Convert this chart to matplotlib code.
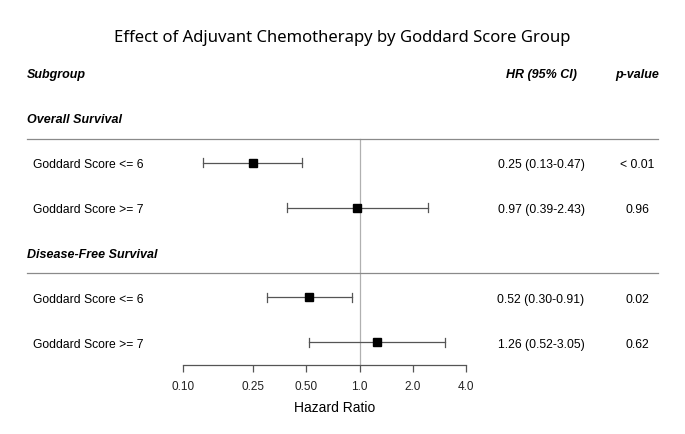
import matplotlib
matplotlib.use("Agg")
import matplotlib.pyplot as plt
import matplotlib.transforms as mtrans
import matplotlib.ticker as mticker

# ── data ─────────────────────────────────────────────────────────────────────
sections = ["Overall Survival", "Disease-Free Survival"]
subgroups = ["Goddard Score <= 6", "Goddard Score >= 7"]
hr = [0.25, 0.97, 0.52, 1.26]
ci_low = [0.13, 0.39, 0.30, 0.52]
ci_high = [0.47, 2.43, 0.91, 3.05]
hr_text = ["0.25 (0.13-0.47)", "0.97 (0.39-2.43)",
           "0.52 (0.30-0.91)", "1.26 (0.52-3.05)"]
p_text = ["< 0.01", "0.96", "0.02", "0.62"]
x_ticks = [0.10, 0.25, 0.50, 1.0, 2.0, 4.0]
x_ticklabels = ["0.10", "0.25", "0.50", "1.0", "2.0", "4.0"]

FONT = "Liberation Sans"
C_LINE = "#555555"
C_SEP = "#8a8a8a"
C_REF = "#b0b0b0"

fig = plt.figure(figsize=(6.85, 4.35), dpi=100, facecolor="white")

# forest panel: x from 183px to 466px, rows 0..6 (header, sec, 2 rows, sec, 2 rows)
ax = fig.add_axes([183 / 685, 69.5 / 435, 283 / 685, 314 / 435])
ax.set_xscale("log")
ax.set_xlim(0.1, 4.0)
ax.set_ylim(6.5, -0.5)

# row layout
row_y = []
sec_y = []
r = 1
for s in sections:
    sec_y.append(r)
    row_y += [r + 1, r + 2]
    r += 3

# reference line and separators
ax.plot([1.0, 1.0], [sec_y[0] + 0.47, 6.5], color=C_REF, lw=0.9, zorder=1)
for y in sec_y:
    ax.axhline(y + 0.47, xmin=(27 - 183) / 283, xmax=(658 - 183) / 283,
               color=C_SEP, lw=0.9, clip_on=False)

# CIs and points
for y, h, lo, hi in zip(row_y, hr, ci_low, ci_high):
    ax.plot([lo, hi], [y, y], color=C_LINE, lw=0.9, zorder=2)
    ax.plot([lo, lo], [y - 0.1, y + 0.1], color=C_LINE, lw=0.9, zorder=2)
    ax.plot([hi, hi], [y - 0.1, y + 0.1], color=C_LINE, lw=0.9, zorder=2)
    ax.plot(h, y, marker="s", ms=5.5, color="black", zorder=3)

# axis styling
for sp in ["top", "left", "right"]:
    ax.spines[sp].set_visible(False)
ax.spines["bottom"].set_color(C_LINE)
ax.spines["bottom"].set_linewidth(0.9)
ax.set_xticks(x_ticks)
ax.xaxis.set_minor_locator(mticker.NullLocator())
ax.set_xticklabels(x_ticklabels, fontsize=8.5, family=FONT, color="#222222")
ax.tick_params(axis="x", direction="out", length=5, width=0.9,
               color=C_LINE, pad=6)
ax.set_yticks([])
ax.patch.set_visible(False)

# text columns
tr = mtrans.blended_transform_factory(fig.transFigure, ax.transData)
hdr = dict(fontsize=9, family=FONT, fontweight="bold", style="italic",
           va="center_baseline", transform=tr)
body = dict(fontsize=8.7, family=FONT, va="center_baseline", transform=tr)

ax.text(27 / 685, 0, "Subgroup", ha="left", **hdr)
ax.text(541 / 685, 0, "HR (95% CI)", ha="center", **hdr)
ax.text(637 / 685, 0, "p-value", ha="center", **hdr)
for s, y in zip(sections, sec_y):
    ax.text(27 / 685, y, s, ha="left", **hdr)
for i, y in enumerate(row_y):
    ax.text(33 / 685, y, subgroups[i % 2], ha="left", **body)
    ax.text(541 / 685, y, hr_text[i], ha="center", **body)
    ax.text(637 / 685, y, p_text[i], ha="center", **body)

fig.text(342 / 685, 1 - 38 / 435, "Effect of Adjuvant Chemotherapy by Goddard Score Group",
         ha="center", va="center", fontsize=12, family="Noto Sans")
fig.text(335 / 685, 1 - 408 / 435, "Hazard Ratio", ha="center", va="center",
         fontsize=10, family=FONT)

fig.savefig("out.png", dpi=100, facecolor="white")
